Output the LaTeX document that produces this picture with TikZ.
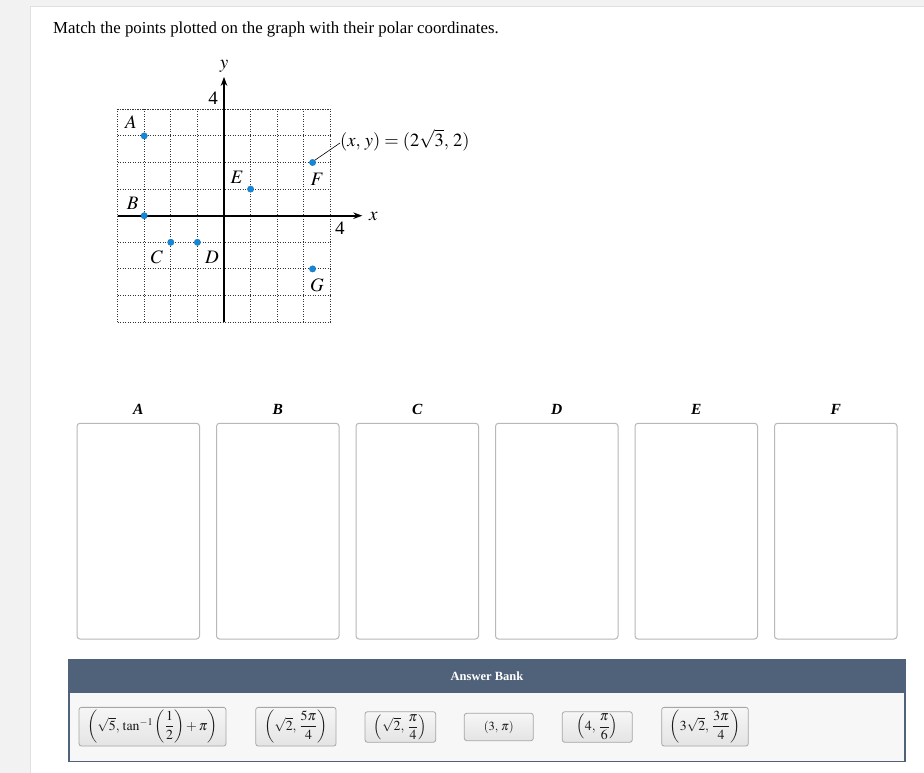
\documentclass[tikz,border=0pt]{standalone}
\usepackage{amsmath}
\usepackage{mathptmx}
\usepackage{fontspec}
\setmainfont{Liberation Serif}
\usetikzlibrary{arrows.meta}
\definecolor{pagebg}{HTML}{F2F2F2}
\definecolor{panelline}{HTML}{E0E0E0}
\definecolor{dotblue}{HTML}{1488D8}
\definecolor{bankbar}{HTML}{4F6279}
\definecolor{bankbody}{HTML}{F7F7F7}
\definecolor{boxline}{HTML}{B8B8B8}
\definecolor{chipline}{HTML}{A6A6A6}
\definecolor{chiptop}{HTML}{F6F6F6}
\definecolor{chipbot}{HTML}{E4E4E4}
\tikzset{
  gridline/.style={black!80, line width=0.9pt, dash pattern=on 0.9pt off 1.6pt},
  axisline/.style={black, line width=2pt, -{Stealth[length=9pt,width=6.5pt]}},
  ptdot/.style={circle, fill=dotblue, draw=dotblue!80!black, line width=0.3pt, inner sep=0pt, minimum size=6.4pt},
  ptlabel/.style={font=\fontsize{19}{19}\selectfont, inner sep=0pt},
  leader/.style={black, line width=0.6pt},
  answerbox/.style={draw=boxline, line width=1pt, rounded corners=3pt, fill=white},
  colhead/.style={font=\fontsize{15.5}{16}\selectfont\bfseries\itshape, inner sep=0pt},
  chip/.style={draw=chipline, line width=0.8pt, rounded corners=2.5pt, top color=chiptop, bottom color=chipbot, inner sep=0pt, font=\fontsize{13.8}{15}\selectfont, text=black!90},
}
\begin{document}
\begin{tikzpicture}[x=1pt,y=-1pt]
\useasboundingbox (0,0) rectangle (924,773);
% page
\fill[pagebg] (0,0) rectangle (924,773);
\fill[white] (30,7) rectangle (926,775);
\draw[panelline, line width=1pt] (30,775) -- (30,7) -- (926,7);
% title
\node[anchor=base west, inner sep=0pt, font=\fontsize{16.8}{18}\selectfont] (title) at (53,33.3)
  {Match the points plotted on the graph with their polar coordinates.};
% graph
\begin{scope}[shift={(224,215.7)}, x=26.6pt, y=26.6pt]
  \draw[gridline] (-4,-4) grid[step={(1,1)}] (4,4);
  \draw[gridline] (-4,-4) rectangle (4,4);
  \coordinate (xstart) at (-4,0);
  \coordinate (xend) at (5.2,0);
  \coordinate (ystart) at (0,-4);
  \coordinate (yend) at (0,5.22);
  \draw[axisline] (xstart) -- (xend);
  \draw[axisline] (ystart) -- (yend);
  \node[ptlabel] (ylab) at (0,5.62) {$y$};
  \node[ptlabel] (yfour) at (-0.41,4.42) {4};
  \node[ptlabel] (xlab) at (5.62,-0.02) {$x$};
  \node[ptlabel] (xfour) at (4.36,-0.46) {4};
  \node[ptdot] (pA) at (-3,3) {};
  \node[ptdot] (pB) at (-3,0) {};
  \node[ptdot] (pC) at (-2,-1) {};
  \node[ptdot] (pD) at (-1,-1) {};
  \node[ptdot] (pE) at (1,1) {};
  \node[ptdot] (pF) at (3.33,2) {};
  \node[ptdot] (pG) at (3.33,-2) {};
  \node[ptlabel] (lA) at (-3.5,3.5) {$A$};
  \node[ptlabel] (lB) at (-3.43,0.45) {$B$};
  \node[ptlabel] (lC) at (-2.52,-1.58) {$C$};
  \node[ptlabel] (lD) at (-0.45,-1.58) {$D$};
  \node[ptlabel] (lE) at (0.49,1.43) {$E$};
  \node[ptlabel] (lF) at (3.5,1.37) {$F$};
  \node[ptlabel] (lG) at (3.5,-2.63) {$G$};
\end{scope}
\node[anchor=west, inner sep=0pt, font=\fontsize{18.5}{18.5}\selectfont] (flab) at (340,140)
  {$(x,\,y) = (2\sqrt{3},\,2)$};
\draw[leader] (pF.north east) -- ([yshift=-3pt]flab.west);
% answer columns
\foreach \i/\L in {0/A,1/B,2/C,3/D,4/E,5/F}{
  \node[colhead] (h\L) at ({138.25+139.5*\i},409) {\L};
  \draw[answerbox] ({77+139.5*\i},423.3) rectangle ({199.5+139.5*\i},639);
}
% answer bank
\fill[bankbody] (69,692.7) rectangle (905,761.7);
\draw[bankbar, line width=1.3pt] (69,692.7) rectangle (905,761.7);
\fill[bankbar] (68.35,659) rectangle (905.65,693);
\node[text=white, font=\fontsize{12.5}{13}\selectfont\bfseries, inner sep=0pt] (bank) at (487,676) {Answer Bank};
% chips
\node[chip, minimum width=147pt, minimum height=38.7pt] (c1) at (152.5,726.7)
  {$\left(\sqrt{5},\,\tan^{-1}\left(\dfrac{1}{2}\right)+\pi\right)$};
\node[chip, minimum width=80.3pt, minimum height=38.7pt] (c2) at (295.9,726.7)
  {$\left(\sqrt{2},\,\dfrac{5\pi}{4}\right)$};
\node[chip, minimum width=70.7pt, minimum height=30.6pt] (c3) at (400.4,727)
  {$\left(\sqrt{2},\,\dfrac{\pi}{4}\right)$};
\node[chip, minimum width=69pt, minimum height=27.4pt, font=\fontsize{12.5}{14}\selectfont] (c4) at (498.8,727)
  {$(3,\,\pi)$};
\node[chip, minimum width=70pt, minimum height=30.6pt] (c5) at (597.3,727)
  {$\left(4,\,\dfrac{\pi}{6}\right)$};
\node[chip, minimum width=86.6pt, minimum height=38.7pt] (c6) at (705,726.7)
  {$\left(3\sqrt{2},\,\dfrac{3\pi}{4}\right)$};
\end{tikzpicture}
\end{document}
